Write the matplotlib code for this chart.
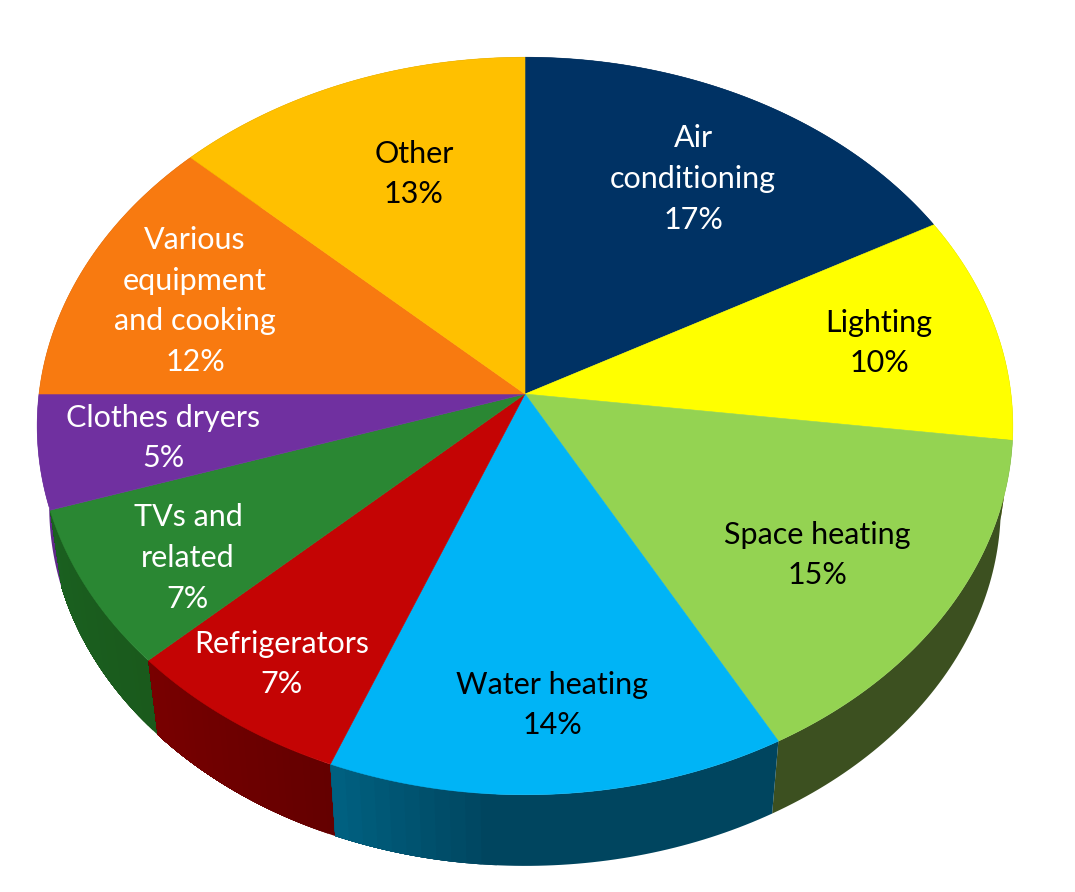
#!/usr/bin/env python3
import numpy as np
from matplotlib import pyplot as plt
from matplotlib.colors import to_rgb

labels = ["Air\nconditioning", "Lighting", "Space heating", "Water heating", "Refrigerators",
          "TVs and\nrelated", "Clothes dryers", "Various\nequipment\nand cooking", "Other"]
shares = [17, 10, 15, 14, 7, 7, 5, 12, 13]

top_colors = ["#003264", "#FFFF00", "#94D352", "#00B4F6", "#C40404",
              "#2A8733", "#7030A0", "#F87A10", "#FFC000"]
# side wall colour at the start and end of each slice (going clockwise)
side_start = ["#001A33", "#808000", "#3C5020", "#00455F", "#640000",
              "#1A5A1C", "#5E2A88", "#7D3E08", "#806000"]
side_end = ["#001A33", "#808000", "#3C5020", "#006080", "#780000",
            "#1A6020", "#5E2A88", "#7D3E08", "#806000"]
text_colors = ["white", "black", "black", "black", "white", "white", "white", "white", "black"]
# label centres in pixels
label_x = [693, 879, 817, 552, 282, 188, 163, 195, 414]
label_y = [179, 343, 555, 705, 664, 558, 438, 301, 174]


def project(theta, rx, ry, cy, k=0.0867, cx=525):
    # tilted disc with a bit of perspective, theta clockwise from 12 o'clock
    u, v = np.sin(theta), np.cos(theta)
    d = 1 + k * v
    return cx + rx * u / d, cy - ry * v / d


def wall(a, b, col):
    th = np.linspace(a, b, 60)
    xt, yt = project(th, 486, 366, 394)
    xb, yb = project(th, 474, 357, 475)
    ax.fill(np.r_[xt, xb[::-1]], np.r_[yt, yb[::-1]], facecolor=col, edgecolor="none")


fig = plt.figure(figsize=(10.75, 8.92), dpi=100)
ax = fig.add_axes([0, 0, 1, 1])
ax.set_xlim(0, 1075)
ax.set_ylim(892, 0)
ax.axis("off")

edges = np.radians(np.cumsum([0] + shares) * 3.6)

# side walls, back to front so the nearer slices cover the others
order = sorted(range(len(shares)), key=lambda i: -np.cos((edges[i] + edges[i + 1]) / 2))
for i in order:
    a, b = edges[i], edges[i + 1]
    c0, c1 = np.array(to_rgb(side_start[i])), np.array(to_rgb(side_end[i]))
    wall(a, b, c0)
    if side_start[i] == side_end[i]:
        continue
    # each band runs to the end of the slice, the next one paints over it
    n = 30
    for j in range(1, n):
        f = j / (n - 1)
        if i == 3:
            f = max(0.0, (f - 0.65) / 0.35)  # water wall stays flat until the left end
        if f > 0:
            wall(a + (b - a) * j / n, b, c0 + (c1 - c0) * f)

# top face
for i in range(len(shares)):
    th = np.linspace(edges[i], edges[i + 1], 120)
    x, y = project(th, 486, 366, 394)
    ax.fill(np.r_[525, x], np.r_[394, y], facecolor=top_colors[i], edgecolor=top_colors[i], lw=0.4)

for i in range(len(shares)):
    ax.text(label_x[i], label_y[i], f"{labels[i]}\n{shares[i]}%", color=text_colors[i],
            ha="center", va="center", family="Lato", fontsize=22, linespacing=1.55)

fig.savefig("out.png", dpi=100)
